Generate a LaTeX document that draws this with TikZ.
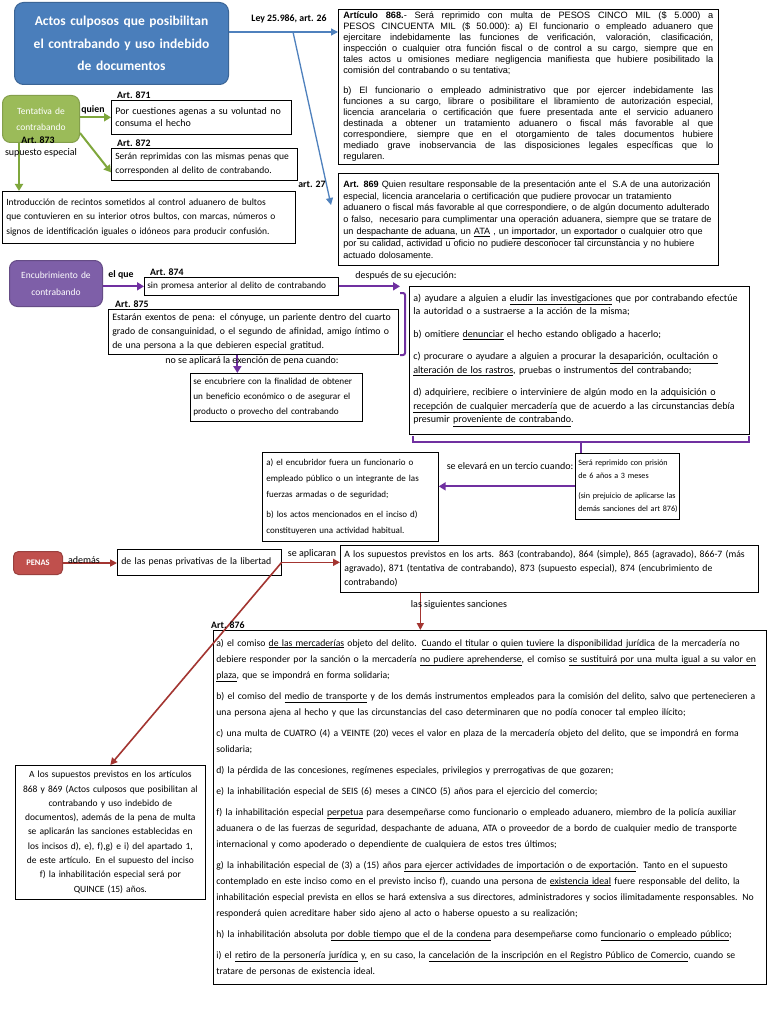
\documentclass[tikz,border=0pt]{standalone}
\usepackage{fontspec}
\setmainfont{Carlito}
\newfontfamily\arialfont{Liberation Sans}
\usetikzlibrary{arrows.meta,positioning}

\definecolor{headblue}{HTML}{4A7EBB}
\definecolor{lineblue}{HTML}{4F81BD}
\definecolor{headgreen}{HTML}{9BBB59}
\definecolor{linegreen}{HTML}{7FA73C}
\definecolor{headpurple}{HTML}{7E5FA8}
\definecolor{linepurple}{HTML}{7030A0}
\definecolor{headred}{HTML}{C0504D}
\definecolor{linered}{HTML}{A33531}

\newcommand{\subr}[1]{\underline{#1}}
\newcommand{\jline}[1]{{\spaceskip=0.278em plus 3em minus 0.05em\makebox[\hsize][s]{#1}}}
\newcommand{\nline}[1]{\makebox[\hsize][l]{#1}}

\tikzset{
  box/.style={draw, line width=0.7pt, fill=white, anchor=north west, align=left,
    inner xsep=4pt, inner ysep=2pt, font=\fontsize{10}{14}\selectfont},
  head/.style={draw, line width=1pt, rounded corners=9pt, anchor=north west,
    align=center, text=white, inner sep=3pt},
  lbl/.style={font=\bfseries\fontsize{9.8}{11}\selectfont, inner sep=1pt},
  tag/.style={font=\fontsize{10}{11}\selectfont, inner sep=1pt},
  barrow/.style={lineblue, line width=1.3pt, -{Triangle[length=7pt,width=7pt]}},
  garrow/.style={linegreen, line width=2pt, -{Triangle[length=7pt,width=8pt]}},
  parrow/.style={linepurple, line width=2pt, -{Triangle[length=7pt,width=8pt]}},
  pline/.style={linepurple, line width=2pt},
  rarrow/.style={linered, line width=1.6pt, -{Triangle[length=7pt,width=7pt]}},
}

\begin{document}
\begin{tikzpicture}[x=1pt,y=-1pt]
  \fill[white] (0,0) rectangle (768,1024);
  \useasboundingbox (0,0) rectangle (768,1024);

  % Actos culposos
  \node[head, fill=headblue, draw=headblue!80!black, text width=208pt, minimum height=82pt,
    font=\bfseries\fontsize{13.5}{22.5}\selectfont] (actos) at (14,2)
    {Actos culposos que posibilitan\\el contrabando y uso indebido\\de documentos};
  \node[box, text width=370pt, minimum height=155pt, inner xsep=5pt,
    font=\arialfont\fontsize{9.2}{11}\selectfont] (b868) at (338,9) {%
    \jline{\textbf{Artículo 868.}- Será reprimido con multa de PESOS CINCO MIL (\$ 5.000) a}\\
    \jline{PESOS CINCUENTA MIL (\$ 50.000): a) El funcionario o empleado aduanero que}\\
    \jline{ejercitare indebidamente las funciones de verificación, valoración, clasificación,}\\
    \jline{inspección o cualquier otra función fiscal o de control a su cargo, siempre que en}\\
    \jline{tales actos u omisiones mediare negligencia manifiesta que hubiere posibilitado la}\\
    \nline{comisión del contrabando o su tentativa;}\\[9pt]
    \jline{b) El funcionario o empleado administrativo que por ejercer indebidamente las}\\
    \jline{funciones a su cargo, librare o posibilitare el libramiento de autorización especial,}\\
    \jline{licencia arancelaria o certificación que fuere presentada ante el servicio aduanero}\\
    \jline{destinada a obtener un tratamiento aduanero o fiscal más favorable al que}\\
    \jline{correspondiere, siempre que en el otorgamiento de tales documentos hubiere}\\
    \jline{mediado grave inobservancia de las disposiciones legales específicas que lo}\\
    \nline{regularen.}};
  \node[box, text width=370pt, minimum height=92pt, inner xsep=5pt,
    font=\arialfont\fontsize{9.1}{11.8}\selectfont] (b869) at (338,173) {%
    \nline{\textbf{Art. 869} Quien resultare responsable de la presentación ante el \ S.A de una autorización}\\
    \nline{especial, licencia arancelaria o certificación que pudiere provocar un tratamiento}\\
    \nline{aduanero o fiscal más favorable al que correspondiere, o de algún documento adulterado}\\
    \nline{o falso, \ necesario para cumplimentar una operación aduanera, siempre que se tratare de}\\
    \nline{un \subr{despachante de aduana}, un \subr{ATA} , un \subr{importador}, un \subr{exportador }o cualquier otro que}\\
    \nline{por su calidad, actividad u oficio no pudiere desconocer tal circunstancia y no hubiere}\\
    \nline{actuado dolosamente.}};
  \coordinate (ley) at (293,32);
  \coordinate (a27) at (331,205);
  \draw[barrow] (actos.east |- ley) -- (b868.west |- ley);
  \draw[barrow] (ley) -- (a27);
  \node[lbl] (l26) at (289,19) {Ley 25.986, art. 26};
  \node[lbl] (l27) at (312,184) {art. 27};

  % Tentativa
  \node[head, fill=headgreen, draw=headgreen!85!black, rounded corners=8pt, text width=71pt,
    minimum height=47pt, font=\fontsize{9.5}{16}\selectfont] (tentativa) at (2,95)
    {Tentativa de\\contrabando};
  \node[box, text width=172pt, minimum height=34pt, font=\fontsize{10}{12}\selectfont] (b871) at (111,100)
    {Por cuestiones agenas a su voluntad no\\consuma el hecho};
  \node[box, text width=178pt, minimum height=32pt, font=\fontsize{9.5}{14}\selectfont] (b872) at (111,148)
    {Serán reprimidas con las mismas penas que\\corresponden al delito de contrabando.};
  \node[box, text width=285pt, minimum height=52pt, font=\fontsize{9.5}{14.5}\selectfont] (b873) at (2,191)
    {Introducción de recintos sometidos al control aduanero de bultos\\
     que contuvieren en su interior otros bultos, con marcas, números o\\
     signos de identificación iguales o idóneos para producir confusión.};
  \draw[garrow] (tentativa.east |- b871.west) -- (b871.west);
  \draw[garrow] ([yshift=-14pt]tentativa.east) -- ([yshift=-8pt]b872.west);
  \draw[garrow] ([xshift=17pt]tentativa.south west) -- ([xshift=17pt]tentativa.south west |- b873.north);
  \node[lbl] (lquien) at (93,110) {quien};
  \node[lbl, above right=0pt and 5pt of b871.north west] (l871) {Art. 871};
  \node[lbl, above right=0pt and 5pt of b872.north west] (l872) {Art. 872};
  \node[lbl] (l873) at (38,140) {Art. 873};
  \node[tag] (lsup) at (41,153) {supuesto especial};

  % Encubrimiento
  \node[head, fill=headpurple, draw=headpurple!80!black, rounded corners=8pt, text width=87pt,
    minimum height=46pt, font=\fontsize{9.5}{17}\selectfont] (encubr) at (9,260)
    {Encubrimiento de\\contrabando};
  \node[box, text width=188pt, minimum height=18pt, inner xsep=3pt, font=\fontsize{9.3}{11}\selectfont] (b874) at (144,277)
    {sin promesa anterior al delito de contrabando};
  \node[box, text width=282pt, minimum height=45pt, font=\fontsize{9.8}{14}\selectfont] (b875) at (108,309)
    {Estarán exentos de pena: el cónyuge, un pariente dentro del cuarto\\
     grado de consanguinidad, o el segundo de afinidad, amigo íntimo o\\
     de una persona a la que debieren especial gratitud.};
  \node[box, text width=166pt, minimum height=48pt, inner xsep=3pt, font=\fontsize{9.2}{15}\selectfont] (bencu) at (190,373)
    {se encubriere con la finalidad de obtener\\un beneficio económico o de asegurar el\\producto o provecho del contrabando};
  \node[box, text width=332pt, minimum height=148pt, font=\fontsize{10}{13.5}\selectfont] (bincisos) at (409,286)
    {a) ayudare a alguien a \subr{eludir las investigaciones} que por contrabando efectúe\\
     la autoridad o a sustraerse a la acción de la misma;\\[9pt]
     b) omitiere \subr{denunciar} el hecho estando obligado a hacerlo;\\[9pt]
     c) procurare o ayudare a alguien a procurar la \subr{desaparición, ocultación o}\\
     \subr{alteración de los rastros}, pruebas o instrumentos del contrabando;\\[9pt]
     d) adquiriere, recibiere o interviniere de algún modo en la \subr{adquisición o}\\
     \subr{recepción de cualquier mercadería} que de acuerdo a las circunstancias debía\\
     presumir \subr{proveniente de contrabando}.};
  \node[box, text width=98pt, minimum height=66pt, inner xsep=3pt, font=\fontsize{8.1}{13.5}\selectfont] (bsera) at (575,453)
    {\nline{Será reprimido con prisión}\\\nline{de 6 años a 3 meses}\\[6pt]\nline{(sin prejuicio de aplicarse las}\\\nline{demás sanciones del art 876)}};
  \node[box, text width=168pt, minimum height=89pt, font=\fontsize{9}{16}\selectfont] (bagrav) at (262,452)
    {a) el encubridor fuera un funcionario o\\empleado público o un integrante de las\\fuerzas armadas o de seguridad;\\[4pt]
     b) los actos mencionados en el inciso d)\\constituyeren una actividad habitual.};
  \draw[parrow] (encubr.east |- b874.west) -- (b874.west);
  \draw[parrow] (b874.east) -- ([xshift=-9pt]bincisos.west |- b874.east);
  \draw[pline, rounded corners=2pt] (400,293) -- (405,293) -- (405,355) -- (400,355);
  \draw[parrow] ([xshift=-16pt]b875.south) -- ([xshift=-16pt]b875.south |- bencu.north);
  \coordinate (brk) at (581,442);
  \draw[pline] (413,436) -- (413,442) -- (749,442) -- (749,436);
  \draw[pline] (brk) -- (brk |- bsera.north);
  \draw[parrow] (bsera.west) -- (bsera.west -| bagrav.east);
  \node[lbl] (lelque) at (121,275) {el que};
  \node[lbl, above right=0pt and 5pt of b874.north west] (l874) {Art. 874};
  \node[lbl, above right=0pt and 6pt of b875.north west] (l875) {Art. 875};
  \node[tag] (ldesp) at (406,276) {después de su ejecución:};
  \node[tag] (lnoap) at (252,361) {no se aplicará la exención de pena cuando:};
  \node[tag] (lelev) at (510,466) {se elevará en un tercio cuando:};

  % Penas
  \node[head, fill=headred, draw=headred!80!black, rounded corners=5pt, text width=43pt,
    minimum height=23pt, font=\bfseries\fontsize{8.5}{10}\selectfont] (penas) at (13,551) {PENAS};
  \node[box, text width=156pt, minimum height=26pt, font=\fontsize{9.8}{11}\selectfont] (bpriv) at (117,549)
    {de las penas privativas de la libertad};
  \node[box, text width=410pt, minimum height=47pt, font=\fontsize{9.7}{14}\selectfont] (bsup) at (340,545)
    {A los supuestos previstos en los arts. 863 (contrabando), 864 (simple), 865 (agravado), 866-7 (más\\
     agravado), 871 (tentativa de contrabando), 873 (supuesto especial), 874 (encubrimiento de\\
     contrabando)};
  \node[box, text width=547pt, minimum height=354pt, inner xsep=3pt, font=\fontsize{9.7}{16}\selectfont] (b876) at (213,630)
    {a) el comiso \subr{de las mercaderías} objeto del delito. \subr{Cuando el titular o quien tuviere la disponibilidad jurídica} de la mercadería no\\
     debiere responder por la sanción o la mercadería \subr{no pudiere aprehenderse}, el comiso \subr{se sustituirá por una multa igual a su valor en}\\
     \subr{plaza}, que se impondrá en forma solidaria;\\[5pt]
     b) el comiso del \subr{medio de transporte} y de los demás instrumentos empleados para la comisión del delito, salvo que pertenecieren a\\
     una persona ajena al hecho y que las circunstancias del caso determinaren que no podía conocer tal empleo ilícito;\\[5pt]
     c) una multa de CUATRO (4) a VEINTE (20) veces el valor en plaza de la mercadería objeto del delito, que se impondrá en forma\\
     solidaria;\\[5pt]
     d) la pérdida de las concesiones, regímenes especiales, privilegios y prerrogativas de que gozaren;\\[5pt]
     e) la inhabilitación especial de SEIS (6) meses a CINCO (5) años para el ejercicio del comercio;\\[5pt]
     f) la inhabilitación especial \subr{perpetua} para desempeñarse como funcionario o empleado aduanero, miembro de la policía auxiliar\\
     aduanera o de las fuerzas de seguridad, despachante de aduana, ATA o proveedor de a bordo de cualquier medio de transporte\\
     internacional y como apoderado o dependiente de cualquiera de estos tres últimos;\\[5pt]
     g) la inhabilitación especial de (3) a (15) años \subr{para ejercer actividades de importación o de exportación}. Tanto en el supuesto\\
     contemplado en este inciso como en el previsto inciso f), cuando una persona de \subr{existencia ideal} fuere responsable del delito, la\\
     inhabilitación especial prevista en ellos se hará extensiva a sus directores, administradores y socios ilimitadamente responsables. No\\
     responderá quien acreditare haber sido ajeno al acto o haberse opuesto a su realización;\\[5pt]
     h) la inhabilitación absoluta \subr{por doble tiempo que el de la condena} para desempeñarse como \subr{funcionario o empleado público};\\[5pt]
     i) el \subr{retiro de la personería jurídica} y, en su caso, la \subr{cancelación de la inscripción en el Registro Público de Comercio}, cuando se\\
     tratare de personas de existencia ideal.};
  \node[box, align=center, text width=182pt, minimum height=134pt, font=\fontsize{9.5}{14.3}\selectfont] (bquince) at (15,765)
    {A los supuestos previstos en los artículos\\868 y 869 (Actos culposos que posibilitan al\\contrabando y uso indebido de\\
     documentos), además de la pena de multa\\se aplicarán las sanciones establecidas en\\los incisos d), e), f),g) e i) del apartado 1,\\
     de este artículo. En el supuesto del inciso\\f) la inhabilitación especial será por\\QUINCE (15) años.};
  \draw[rarrow] (penas.east) -- (penas.east -| bpriv.west);
  \draw[rarrow] (bpriv.east) -- (bpriv.east -| bsup.west);
  \draw[rarrow] (bpriv.east) -- (bquince.north);
  \draw[rarrow] ([xshift=-129pt]bsup.south) -- ([xshift=-129pt]bsup.south |- b876.north);
  \node[tag] (lademas) at (84,560) {además};
  \node[tag] (lseap) at (312,554) {se aplicaran};
  \node[tag] (lsig) at (459,605) {las siguientes sanciones};
  \node[lbl, above right=0pt and -3pt of b876.north west] (l876) {Art. 876};
\end{tikzpicture}
\end{document}
